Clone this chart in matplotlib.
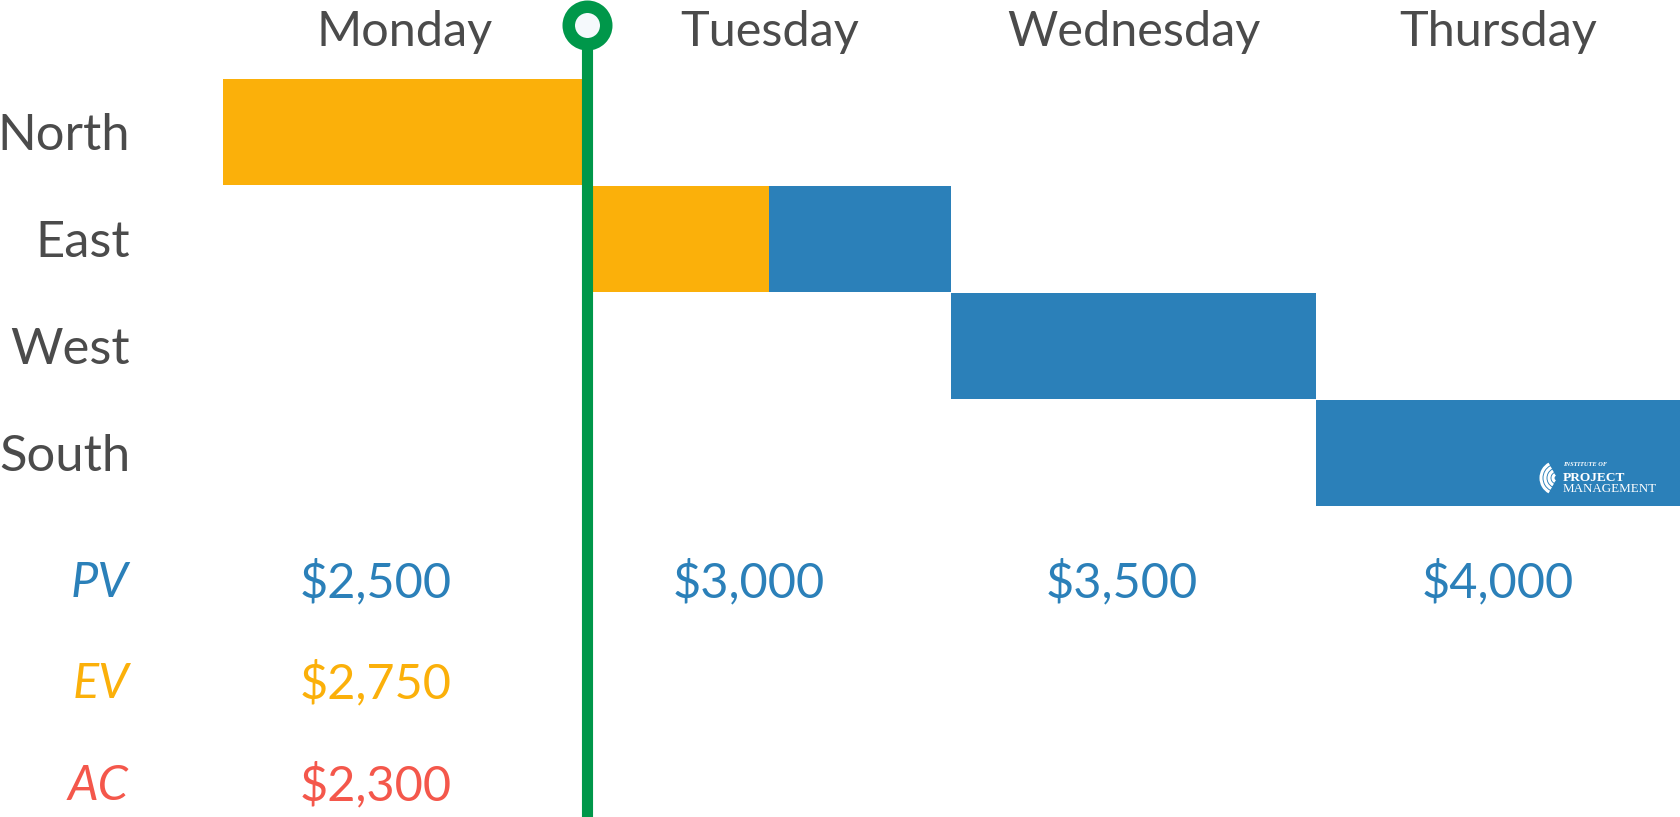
import matplotlib.pyplot as plt
from matplotlib.patches import Arc

# schedule data (x in days from Monday start)
days = ["Monday", "Tuesday", "Wednesday", "Thursday"]
regions = ["North", "East", "West", "South"]
bar_region = ["North", "East", "East", "West", "South"]
bar_start = [0.0, 1.0, 1.5, 2.0, 3.0]
bar_length = [1.0, 0.5, 0.5, 1.0, 1.0]
bar_kind = ["done", "done", "plan", "plan", "plan"]
status_day = 1.0

metrics = ["PV", "EV", "AC"]
pv_values = ["$2,500", "$3,000", "$3,500", "$4,000"]
ev_values = ["$2,750"]
ac_values = ["$2,300"]

BLUE = "#2B80B9"
ORANGE = "#FBB00A"
GREEN = "#00974A"
RED = "#F4574B"
GREY = "#4B4B4B"
kind_color = {"done": ORANGE, "plan": BLUE}
metric_color = {"PV": BLUE, "EV": ORANGE, "AC": RED}

plt.rcParams['font.family'] = ['Lato', 'DejaVu Sans']

fig = plt.figure(figsize=(16.8, 8.17), dpi=100)
ax = fig.add_axes([0, 0, 1, 1])
ax.set_xlim(-0.6122, 4.0)
ax.set_ylim(6.402, -1.234)
ax.axis("off")

row_of = {r: i for i, r in enumerate(regions)}
ys = [row_of[r] for r in bar_region]
cols = [kind_color[k] for k in bar_kind]
ax.barh(ys, bar_length, left=bar_start, height=0.99, color=cols, linewidth=0, zorder=2)

fs = 35
base = 0.165  # baseline offset below row centre
for i, d in enumerate(days):
    ax.text(i + 0.5, -0.804, d, ha="center", va="baseline", fontsize=fs, color=GREY)
for r in regions:
    ax.text(-0.255, row_of[r] + base, r, ha="right", va="baseline", fontsize=36.5, color=GREY)

value_x = [0.42, 1.444, 2.468, 3.5]
metric_y = [4.346, 5.29, 6.245]
all_values = {"PV": pv_values, "EV": ev_values, "AC": ac_values}
for m, y in zip(metrics, metric_y):
    ax.text(-0.258, y, m, ha="right", va="baseline", fontsize=fs,
            color=metric_color[m], style="italic")
    for x, v in zip(value_x, all_values[m]):
        ax.text(x, y, v, ha="center", va="baseline", fontsize=fs, color=metric_color[m])

# status line with ring on top
ax.plot([status_day, status_day], [-1.0, 6.402], color=GREEN, lw=8, zorder=3,
        solid_capstyle="butt")
ax.plot([status_day], [-1.0], marker="o", ms=27, mew=9, mec=GREEN, mfc="#F5F9FC",
        zorder=4, clip_on=False)

# logo in the South bar
fig.text(1563 / 1680, 1 - 466 / 817, "INSTITUTE OF", color="white", fontsize=4.6,
         family="Liberation Serif", style="italic", fontweight="bold", va="baseline")
fig.text(1563 / 1680, 1 - 481 / 817, "PROJECT", color="white", fontsize=9.6,
         family="Liberation Serif", fontweight="bold", va="baseline")
fig.text(1563 / 1680, 1 - 492 / 817, "MANAGEMENT", color="white", fontsize=9.4,
         family="Liberation Serif", va="baseline")
for r in [4, 8, 12, 16]:
    fig.add_artist(Arc((1557 / 1680, 1 - 478 / 817), 2 * r / 1680, 2 * r / 817,
                       theta1=105, theta2=255, color="white", lw=2.2,
                       transform=fig.transFigure))

fig.savefig("out.png", dpi=100, facecolor="white")
